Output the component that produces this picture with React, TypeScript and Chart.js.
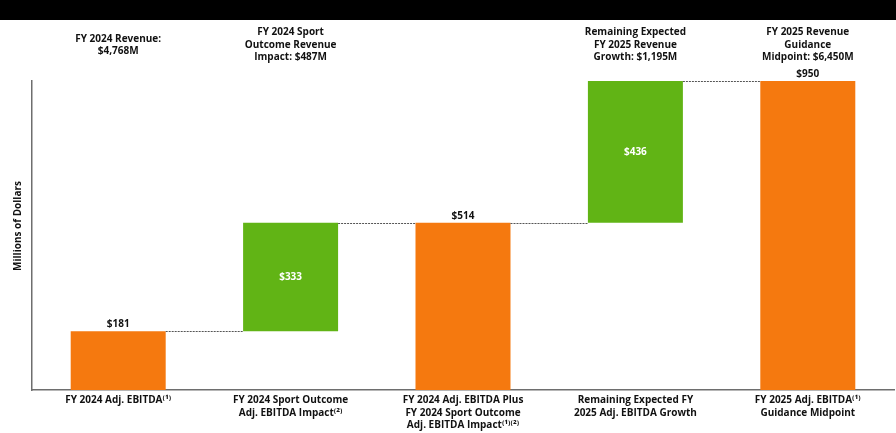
import React, { useEffect, useRef } from 'react';
import { Chart, registerables } from 'chart.js';

Chart.register(...registerables);

const categories: string[][] = [
  ['FY 2024 Adj. EBITDA⁽¹⁾'],
  ['FY 2024 Sport Outcome', 'Adj. EBITDA Impact⁽²⁾'],
  ['FY 2024 Adj. EBITDA Plus', 'FY 2024 Sport Outcome', 'Adj. EBITDA Impact⁽¹⁾⁽²⁾'],
  ['Remaining Expected FY', '2025 Adj. EBITDA Growth'],
  ['FY 2025 Adj. EBITDA⁽¹⁾', 'Guidance Midpoint'],
];
const values: number[] = [181, 333, 514, 436, 950];
const kinds: string[] = ['total', 'delta', 'total', 'delta', 'total'];
const valueLabels: string[] = ['$181', '$333', '$514', '$436', '$950'];
const revenueNotes: string[][] = [
  ['FY 2024 Revenue:', '$4,768M'],
  ['FY 2024 Sport', 'Outcome Revenue', 'Impact: $487M'],
  [],
  ['Remaining Expected', 'FY 2025 Revenue', 'Growth: $1,195M'],
  ['FY 2025 Revenue', 'Guidance', 'Midpoint: $6,450M'],
];
const yAxisTitle = 'Millions of Dollars';
const yMin = 0;
const yMax = 950;

const ORANGE = '#F5790F';
const GREEN = '#61B415';
const FONT = "'Open Sans', 'DejaVu Sans', sans-serif";

export default function App() {
  const ref = useRef<HTMLCanvasElement | null>(null);

  useEffect(() => {
    if (!ref.current) return;
    // floating bars from running totals
    const bars: [number, number][] = [];
    let running = 0;
    values.forEach((v, i) => {
      if (kinds[i] === 'total') {
        bars.push([0, v]);
        running = v;
      } else {
        bars.push([running, running + v]);
        running = running + v;
      }
    });
    const colors = kinds.map((k) => (k === 'total' ? ORANGE : GREEN));

    const extras = {
      id: 'waterfallExtras',
      beforeDraw(chart: any) {
        const ctx = chart.ctx;
        ctx.save();
        ctx.fillStyle = '#000';
        ctx.fillRect(0, 0, chart.width, 20);
        ctx.restore();
      },
      afterDatasetsDraw(chart: any) {
        const ctx = chart.ctx;
        const meta = chart.getDatasetMeta(0);
        const ys = chart.scales.y;
        ctx.save();
        // connectors
        ctx.strokeStyle = '#555';
        ctx.lineWidth = 1;
        ctx.setLineDash([2, 1]);
        for (let i = 0; i < bars.length - 1; i++) {
          const a = meta.data[i];
          const b = meta.data[i + 1];
          const y = Math.round(ys.getPixelForValue(bars[i][1])) + 0.5;
          ctx.beginPath();
          ctx.moveTo(a.x + a.width / 2, y);
          ctx.lineTo(b.x - b.width / 2, y);
          ctx.stroke();
        }
        ctx.setLineDash([]);
        // value labels
        ctx.font = `bold 10px ${FONT}`;
        ctx.textAlign = 'center';
        ctx.textBaseline = 'middle';
        meta.data.forEach((el: any, i: number) => {
          if (kinds[i] === 'total') {
            ctx.fillStyle = '#111';
            ctx.fillText(valueLabels[i], el.x, ys.getPixelForValue(bars[i][1]) - 7);
          } else {
            ctx.fillStyle = '#fff';
            const yc = (ys.getPixelForValue(bars[i][0]) + ys.getPixelForValue(bars[i][1])) / 2;
            ctx.fillText(valueLabels[i], el.x, yc);
          }
        });
        // revenue notes
        ctx.fillStyle = '#111';
        const lh = 12.5;
        meta.data.forEach((el: any, i: number) => {
          const lines = revenueNotes[i];
          const start = 45 - ((lines.length - 1) * lh) / 2;
          lines.forEach((t, j) => ctx.fillText(t, el.x, start + j * lh));
        });
        // y title
        ctx.translate(18, 226);
        ctx.rotate(-Math.PI / 2);
        ctx.fillText(yAxisTitle, 0, 0);
        ctx.restore();
      },
    };

    const chart = new Chart(ref.current, {
      type: 'bar',
      data: {
        labels: categories,
        datasets: [
          {
            data: bars as any,
            backgroundColor: colors,
            borderWidth: 0,
            barPercentage: 0.551,
            categoryPercentage: 1,
          },
        ],
      },
      options: {
        animation: false,
        responsive: false,
        devicePixelRatio: 1,
        layout: { padding: { top: 81, right: 2, left: 0, bottom: 0 } },
        plugins: { legend: { display: false }, tooltip: { enabled: false } },
        scales: {
          x: {
            grid: { display: false, drawTicks: false },
            border: { display: true, color: '#6e6e6e', width: 1.5 },
            ticks: {
              color: '#111',
              font: { family: FONT, weight: 'bold', size: 10, lineHeight: 1.25 },
              padding: 4,
              maxRotation: 0,
              autoSkip: false,
            },
            afterFit: (s: any) => {
              s.height = 43;
            },
          },
          y: {
            min: yMin,
            max: yMax,
            grid: { display: false, drawTicks: false },
            border: { display: true, color: '#6e6e6e', width: 1.5 },
            ticks: { display: false },
            afterFit: (s: any) => {
              s.width = 32;
            },
          },
        },
      },
      plugins: [extras],
    });
    return () => chart.destroy();
  }, []);

  return (
    <div style={{ position: 'absolute', left: 0, top: 0, width: 896, height: 433, background: '#fff' }}>
      <canvas ref={ref} width={896} height={433} style={{ display: 'block', width: 896, height: 433 }} />
    </div>
  );
}
